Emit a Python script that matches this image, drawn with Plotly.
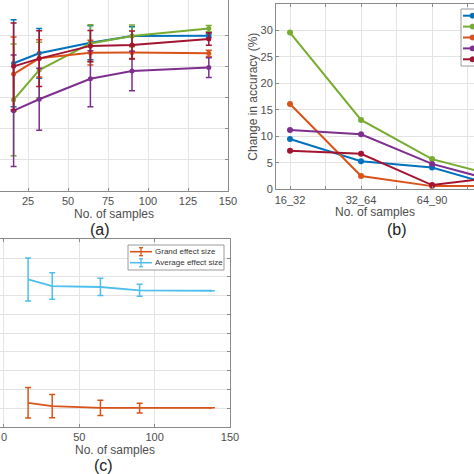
import plotly.graph_objects as go

# ---------------- data ----------------
# panel (a): accuracy vs number of samples (y tick labels are cropped in the reference)
samples_a = [16, 32, 64, 90, 138]
series_names = ["Method 1", "Method 2", "Method 3", "Method 4", "Method 5"]
acc_blue = [81.2, 84.4, 87.8, 90.0, 90.1]
acc_green = [69.4, 79.0, 87.6, 90.0, 92.4]
acc_orange = [77.7, 82.8, 84.6, 84.7, 84.4]
acc_purple = [65.9, 69.6, 76.2, 78.7, 79.8]
acc_red = [80.2, 82.7, 86.8, 87.1, 89.0]
err_blue = [14, 8, 5.5, 3, 0.5]
err_green = [18, 9, 6, 3.5, 1]
err_orange = [12, 6, 4, 2, 1]
err_purple = [18, 10, 9, 6.4, 3.2]
err_red = [14, 9, 5, 4.5, 2]

# panel (b): change in accuracy between sample sizes
pairs_b = ["16_32", "32_64", "64_90", "90_138"]
chg_blue = [9.5, 5.3, 4.1, 0.3]
chg_green = [29.6, 13.1, 5.7, 2.2]
chg_orange = [16.1, 2.5, 0.6, 0.6]
chg_purple = [11.2, 10.4, 4.8, 1.2]
chg_red = [7.3, 6.7, 0.8, 2.4]

# panel (c): effect sizes
samples_c = [16, 32, 64, 90, 138]
grand_effect = [0.129, 0.111, 0.102, 0.101, 0.102]
grand_err = [0.081, 0.062, 0.041, 0.026, 0.0]
avg_effect = [0.786, 0.751, 0.746, 0.728, 0.726]
avg_err = [0.115, 0.071, 0.046, 0.032, 0.0]

colors = ["#0072BD", "#77AC30", "#D95319", "#7E2F8E", "#A2142F"]
c_orange = "#D95319"
c_cyan = "#4DBEEE"

W = H = 474
FONT = "Liberation Sans"
GRID = "#e3e3e3"
AXLINE = "#8a8a8a"
TICKC = "#4d4d4d"
LEGBORDER = "#9a9a9a"


def px_x(p):
    return p / W


def px_y(p):
    return 1 - p / H


fig = go.Figure()

acc = [acc_blue, acc_green, acc_orange, acc_purple, acc_red]
err = [err_blue, err_green, err_orange, err_purple, err_red]
for name, col, y, e in zip(series_names, colors, acc, err):
    fig.add_trace(go.Scatter(
        x=samples_a, y=y, mode="lines+markers", name=name,
        line=dict(color=col, width=2), marker=dict(size=5, color=col),
        error_y=dict(type="data", array=e, color=col, thickness=1.5, width=3),
        xaxis="x", yaxis="y", showlegend=False))

chg = [chg_blue, chg_green, chg_orange, chg_purple, chg_red]
pos_b = list(range(1, len(pairs_b) + 1))
for name, col, y in zip(series_names, colors, chg):
    fig.add_trace(go.Scatter(
        x=pos_b, y=y, mode="lines+markers", name=name,
        line=dict(color=col, width=2), marker=dict(size=6, color=col),
        xaxis="x2", yaxis="y2", showlegend=False))

c_names = ["Grand effect size", "Average effect size"]
c_colors = [c_orange, c_cyan]
for name, col, y, e in zip(c_names, c_colors, [grand_effect, avg_effect], [grand_err, avg_err]):
    fig.add_trace(go.Scatter(
        x=samples_c, y=y, mode="lines", name=name,
        line=dict(color=col, width=1.8),
        error_y=dict(type="data", array=e, color=col, thickness=1.5, width=3),
        xaxis="x3", yaxis="y3", showlegend=False))

# ---------------- compact legends (MATLAB style) ----------------
shapes = []
annotations = []

# legend of panel (b): only its left edge is inside the picture (labels are cropped)
shapes.append(dict(type="rect", xref="paper", yref="paper",
                   x0=px_x(461), x1=px_x(490), y0=px_y(66), y1=px_y(9),
                   line=dict(color=LEGBORDER, width=1), fillcolor="white", layer="above"))
for i, col in enumerate(colors):
    yy = 15.7 + i * 10.9
    shapes.append(dict(type="line", xref="paper", yref="paper",
                       x0=px_x(463), x1=px_x(482), y0=px_y(yy), y1=px_y(yy),
                       line=dict(color=col, width=2), layer="above"))
    shapes.append(dict(type="circle", xref="paper", yref="paper",
                       x0=px_x(470), x1=px_x(475), y0=px_y(yy + 2.5), y1=px_y(yy - 2.5),
                       line=dict(color=col, width=1), fillcolor=col, layer="above"))

# legend of panel (c)
shapes.append(dict(type="rect", xref="paper", yref="paper",
                   x0=px_x(128), x1=px_x(224), y0=px_y(270), y1=px_y(245),
                   line=dict(color=LEGBORDER, width=1), fillcolor="white", layer="above"))
for i, (name, col) in enumerate(zip(c_names, c_colors)):
    yy = 251.7 + i * 11
    shapes.append(dict(type="line", xref="paper", yref="paper",
                       x0=px_x(130), x1=px_x(152), y0=px_y(yy), y1=px_y(yy),
                       line=dict(color=col, width=1.6), layer="above"))
    shapes.append(dict(type="line", xref="paper", yref="paper",
                       x0=px_x(141), x1=px_x(141), y0=px_y(yy - 4), y1=px_y(yy + 4),
                       line=dict(color=col, width=1.3), layer="above"))
    for cap in (yy - 4, yy + 4):
        shapes.append(dict(type="line", xref="paper", yref="paper",
                           x0=px_x(139), x1=px_x(143), y0=px_y(cap), y1=px_y(cap),
                           line=dict(color=col, width=1.3), layer="above"))
    annotations.append(dict(text=name, x=px_x(153), y=px_y(yy), xref="paper", yref="paper",
                            xanchor="left", yanchor="middle", showarrow=False,
                            font=dict(family=FONT, size=8, color="#333333")))

# panel labels
for lab, xx, yy in [("(a)", 100, 229), ("(b)", 397, 229), ("(c)", 103, 465)]:
    annotations.append(dict(text=lab, x=px_x(xx), y=px_y(yy), xref="paper", yref="paper",
                            xanchor="center", yanchor="middle", showarrow=False,
                            font=dict(family=FONT, size=16, color="#222222")))

tickfont = dict(family=FONT, size=11, color=TICKC)
titlefont = dict(family=FONT, size=12, color=TICKC)

common = dict(showgrid=True, gridcolor=GRID, showline=True, linecolor=AXLINE,
              linewidth=1, ticks="inside", ticklen=3, tickcolor=AXLINE,
              tickfont=tickfont, zeroline=False)

fig.update_layout(
    width=W, height=H, margin=dict(l=0, r=0, t=0, b=0, autoexpand=False),
    paper_bgcolor="white", plot_bgcolor="white",
    font=dict(family=FONT, color=TICKC),
    showlegend=False,
    # panel (a)
    xaxis=dict(**common, domain=[0, px_x(228)], range=[7.5, 150],
               tickvals=[25, 50, 75, 100, 125, 150], anchor="y",
               title=dict(text="No. of samples", font=titlefont, standoff=2)),
    yaxis=dict(**common, domain=[px_y(191), 1], range=[40, 101.6],
               tickvals=[40, 50, 60, 70, 80, 90], side="right",
               showticklabels=False, anchor="x"),
    # panel (b)
    xaxis2=dict(**common, mirror="ticks", domain=[px_x(276), 1], range=[0.803, 3.59],
                tickvals=[1, 1.5, 2, 2.5, 3, 3.5],
                ticktext=[pairs_b[0], "", pairs_b[1], "", pairs_b[2], ""],
                anchor="y2",
                title=dict(text="No. of samples", font=titlefont, standoff=3)),
    yaxis2=dict(**common, domain=[px_y(189.3), px_y(4)], range=[0, 35],
                tickvals=[0, 5, 10, 15, 20, 25, 30, 35], anchor="x2",
                title=dict(text="Change in accuracy (%)", font=titlefont, standoff=0)),
    # panel (c)
    xaxis3=dict(**common, mirror="ticks", domain=[0, px_x(230)], range=[-2.65, 150],
                tickvals=[0, 50, 100, 150], anchor="y3",
                title=dict(text="No. of samples", font=titlefont, standoff=3)),
    yaxis3=dict(**common, domain=[px_y(427), px_y(239.3)], range=[0, 1],
                tickvals=[i / 10 for i in range(11)], side="right",
                showticklabels=False, anchor="x3"),
    shapes=shapes,
    annotations=annotations,
)

fig.write_html("out.html")
